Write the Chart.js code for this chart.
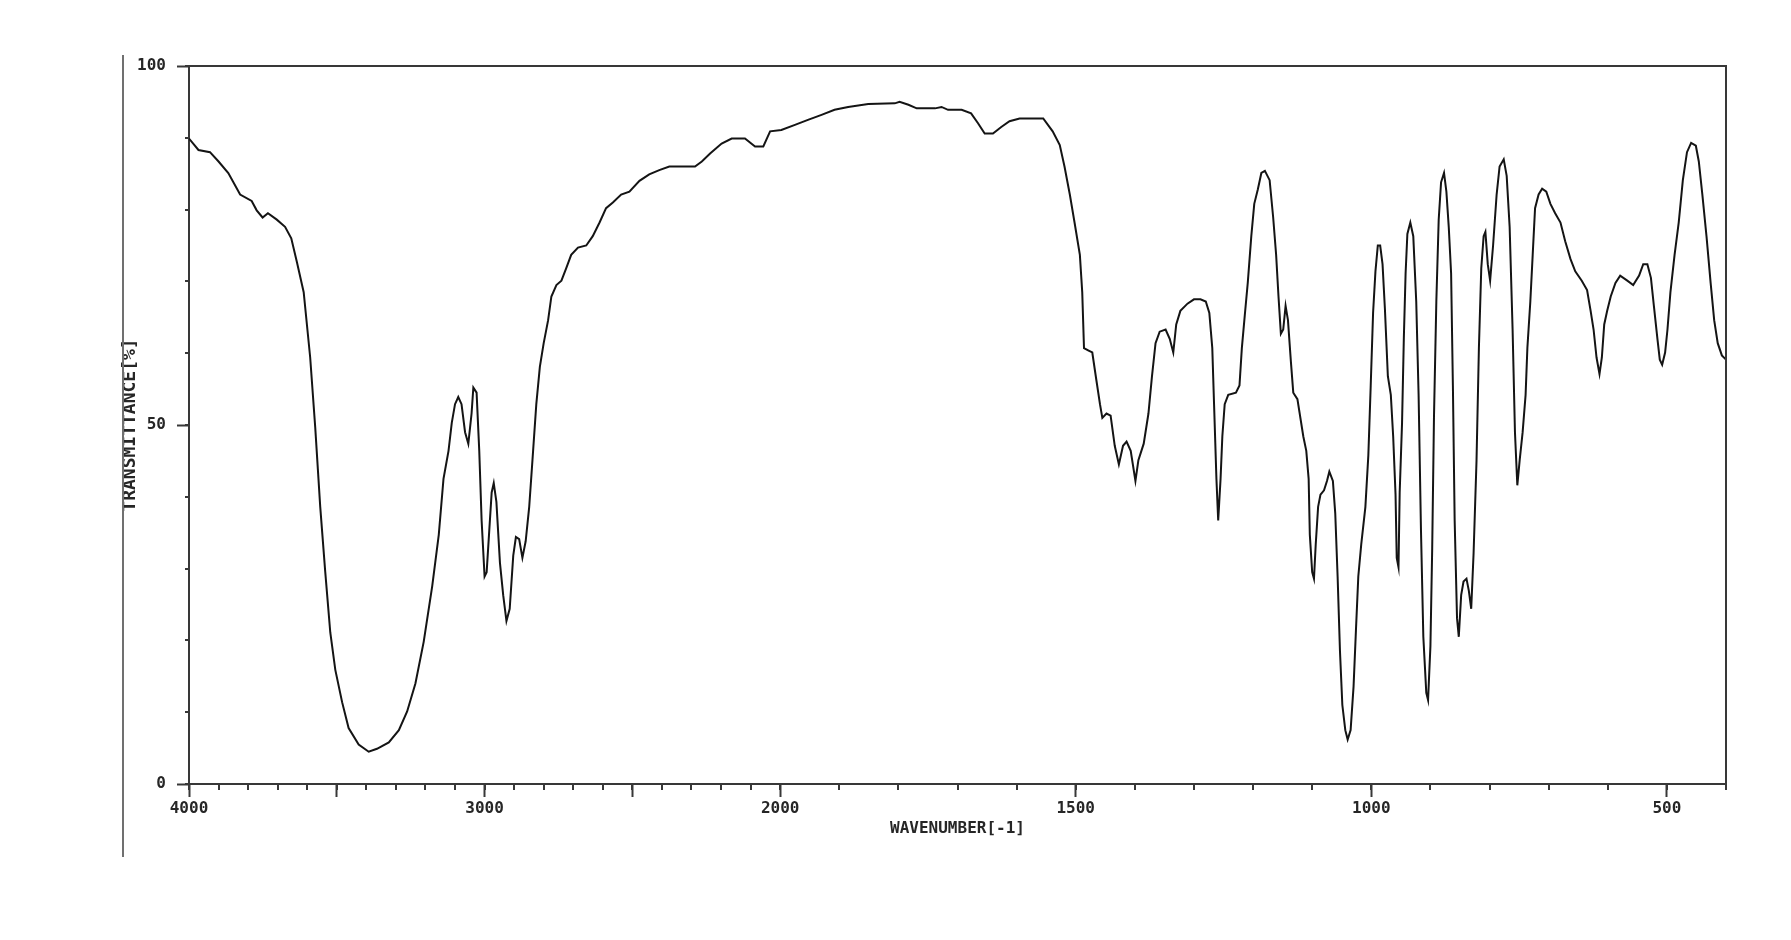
<!DOCTYPE html>
<html>
<head>
<meta charset="utf-8">
<script src="https://cdn.jsdelivr.net/npm/chart.js@4.4.1/dist/chart.umd.min.js"></script>
<style>
html, body { margin: 0; padding: 0; background: #ffffff; }
#wrap { position: relative; width: 1791px; height: 940px; }
#c { position: absolute; left: 0; top: 0; }
#edge { position: absolute; left: 122px; top: 55px; width: 2px; height: 802px; background: #707070; }
</style>
</head>
<body>
<div id="wrap">
  <canvas id="c" width="1791" height="940"></canvas>
  <div id="edge"></div>
</div>
<script>
// ---- data (wavenumber in cm-1, transmittance in %) ----
const wavenumbers = [
  4000, 3968, 3929, 3900, 3867, 3827, 3788, 3771, 3751, 3733, 3703, 3675, 3654, 3635, 3612, 3590,
  3573, 3556, 3539, 3522, 3505, 3482, 3460, 3426, 3392, 3364, 3324, 3290, 3262, 3234, 3206, 3177,
  3155, 3139, 3122, 3111, 3100, 3089, 3078, 3066, 3055, 3044, 3038, 3027, 3018, 3010, 3000, 2993,
  2984, 2976, 2969, 2960, 2948, 2937, 2926, 2915, 2903, 2894, 2883, 2872, 2861, 2849, 2838, 2825,
  2813, 2800, 2785, 2774, 2757, 2740, 2724, 2707, 2684, 2656, 2634, 2611, 2589, 2566, 2538, 2510,
  2476, 2443, 2409, 2375, 2342, 2288, 2265, 2237, 2198, 2164, 2119, 2085, 2057, 2034, 1998, 1975,
  1953, 1930, 1908, 1885, 1851, 1806, 1798, 1783, 1769, 1738, 1727, 1716, 1693, 1677, 1665, 1654,
  1640, 1626, 1612, 1595, 1555, 1539, 1527, 1519, 1510, 1502, 1493, 1489, 1486, 1479, 1472, 1465,
  1459, 1455, 1448, 1441, 1434, 1427, 1420, 1414, 1407, 1399, 1394, 1385, 1377, 1371, 1365, 1358,
  1348, 1341, 1335, 1330, 1323, 1311, 1300, 1289, 1280, 1274, 1269, 1266, 1262, 1259, 1255, 1252,
  1248, 1242, 1229, 1223, 1219, 1214, 1209, 1203, 1198, 1192, 1186, 1180, 1172, 1166, 1161, 1157,
  1153, 1149, 1145, 1141, 1136, 1132, 1125, 1115, 1110, 1106, 1104, 1100, 1097, 1094, 1090, 1086,
  1080, 1075, 1071, 1065, 1061, 1057, 1053, 1049, 1044, 1040, 1035, 1030, 1026, 1022, 1017, 1010,
  1005, 1001, 997, 993, 989, 985, 981, 977, 972, 967, 963, 959, 957, 954, 952, 948,
  945, 942, 939, 934, 929, 924, 920, 916, 912, 907, 904, 900, 897, 894, 890, 886,
  882, 877, 873, 869, 865, 862, 859, 855, 852, 848, 844, 839, 835, 831, 827, 822,
  818, 814, 810, 807, 803, 799, 794, 788, 783, 776, 771, 766, 761, 757, 753, 749,
  744, 739, 736, 731, 727, 723, 717, 711, 704, 697, 689, 680, 672, 663, 655, 644,
  635, 629, 624, 619, 614, 610, 606, 601, 595, 587, 579, 567, 557, 547, 540, 533,
  527, 522, 516, 512, 508, 503, 499, 494, 487, 480, 473, 466, 459, 451, 446, 440,
  433, 426, 420, 414, 407, 400
];
const transmittance = [
  89.9, 88.3, 88.0, 86.7, 85.1, 82.1, 81.2, 79.9, 78.9, 79.5, 78.6, 77.6, 76.0, 72.7, 68.5, 59.4,
  49.7, 38.6, 29.5, 21.1, 15.9, 11.4, 7.8, 5.5, 4.5, 4.9, 5.8, 7.5, 10.1, 14.0, 19.8, 27.6,
  34.7, 42.5, 46.4, 50.3, 52.9, 53.9, 52.9, 49.0, 47.4, 51.6, 55.2, 54.5, 46.4, 36.7, 28.9, 29.5,
  35.4, 40.6, 41.9, 39.3, 30.8, 26.3, 22.7, 24.4, 31.8, 34.4, 34.1, 31.5, 33.8, 38.6, 45.1, 52.9,
  58.1, 61.4, 64.6, 67.9, 69.5, 70.1, 71.8, 73.7, 74.7, 75.0, 76.3, 78.2, 80.2, 81.0, 82.1, 82.5,
  84.0, 84.9, 85.5, 86.0, 86.0, 86.0, 86.7, 87.8, 89.2, 89.9, 89.9, 88.8, 88.8, 90.9, 91.1, 91.8,
  92.5, 93.2, 93.9, 94.3, 94.7, 94.8, 95.0, 94.6, 94.1, 94.1, 94.3, 93.9, 93.9, 93.4, 92.0, 90.6,
  90.6, 91.5, 92.3, 92.7, 92.7, 90.9, 89.0, 86.0, 82.1, 78.2, 73.7, 68.5, 60.7, 60.4, 60.1, 56.2,
  52.9, 51.0, 51.6, 51.3, 47.1, 44.5, 47.1, 47.7, 46.4, 42.2, 45.1, 47.4, 51.6, 56.8, 61.4, 63.0,
  63.3, 62.0, 60.1, 64.0, 65.9, 66.9, 67.5, 67.5, 67.2, 65.6, 60.7, 52.9, 42.5, 36.7, 42.5, 48.4,
  52.9, 54.2, 54.5, 55.5, 60.7, 65.3, 69.8, 76.3, 80.8, 82.8, 85.1, 85.4, 84.1, 78.9, 73.7, 67.9,
  62.7, 63.3, 66.6, 64.6, 58.8, 54.5, 53.6, 48.4, 46.4, 42.5, 34.7, 29.5, 28.6, 33.4, 38.6, 40.3,
  40.9, 42.2, 43.5, 42.2, 37.7, 28.9, 18.5, 11.0, 7.5, 6.2, 7.5, 13.6, 21.4, 28.9, 33.4, 38.6,
  45.8, 55.5, 65.6, 71.4, 75.0, 75.0, 72.4, 66.2, 56.8, 54.2, 48.4, 40.3, 31.5, 30.2, 40.6, 50.3,
  62.0, 71.1, 76.6, 78.2, 76.3, 67.2, 54.2, 35.4, 20.5, 12.7, 11.7, 19.2, 32.8, 51.0, 67.2, 78.6,
  83.8, 85.1, 82.5, 77.6, 71.1, 55.5, 36.7, 23.1, 20.5, 26.3, 28.2, 28.6, 26.9, 24.4, 32.1, 45.1,
  60.7, 71.8, 76.3, 76.9, 72.4, 70.1, 75.0, 82.1, 86.0, 87.0, 84.7, 77.6, 63.3, 49.0, 41.6, 45.1,
  49.0, 54.2, 60.7, 67.2, 73.7, 80.2, 82.1, 82.9, 82.5, 80.8, 79.5, 78.2, 75.6, 73.1, 71.4, 70.1,
  68.8, 65.9, 63.3, 59.4, 57.1, 59.4, 64.0, 65.9, 67.9, 69.8, 70.8, 70.1, 69.5, 70.8, 72.4, 72.4,
  70.5, 66.6, 62.0, 59.1, 58.4, 60.1, 63.3, 68.5, 73.7, 78.2, 84.1, 88.0, 89.3, 88.9, 86.7, 82.1,
  76.3, 69.8, 64.6, 61.4, 59.7, 59.1
];
const xTickValues = [4000, 3500, 3000, 2500, 2000, 1500, 1000, 500];
const xTickLabels = ['4000', '', '3000', '', '2000', '1500', '1000', '500'];
const yTickValues = [0, 50, 100];
const yTickLabels = ['0', '50', '100'];
const xMinorStep = 100;   // minor tick spacing on x (cm-1)
const yMinorStep = 10;    // minor tick spacing on y (%)
const xTitle = 'WAVENUMBER[-1]';
const yTitle = 'TRANSMITTANCE[%]';

// ---- split wavenumber axis: 4000-2000 at half scale, 2000-400 at full scale ----
function toPos(w) { return w >= 2000 ? (4000 - w) / 2 : 1000 + (2000 - w); }

const AX = '#383838';
const TXT = '#262626';
const FONT = '"DejaVu Sans Mono", "Liberation Mono", monospace';

const framePlugin = {
  id: 'frame',
  afterDraw(chart) {
    const ctx = chart.ctx;
    const a = chart.chartArea;
    const xs = chart.scales.x, ys = chart.scales.y;
    ctx.save();
    ctx.strokeStyle = AX;
    ctx.lineWidth = 2;
    ctx.beginPath();
    ctx.moveTo(a.left, a.top);
    ctx.lineTo(a.right, a.top);
    ctx.lineTo(a.right, a.bottom);
    ctx.stroke();
    ctx.beginPath();
    for (let w = 4000; w >= 400; w -= xMinorStep) {
      const px = Math.round(xs.getPixelForValue(toPos(w)));
      ctx.moveTo(px, a.bottom);
      ctx.lineTo(px, a.bottom + 6);
    }
    for (let v = 0; v <= 100; v += yMinorStep) {
      const py = Math.round(ys.getPixelForValue(v));
      ctx.moveTo(a.left, py);
      ctx.lineTo(a.left - 4, py);
    }
    ctx.stroke();
    ctx.restore();
  }
};

const points = wavenumbers.map((w, i) => ({ x: toPos(w), y: transmittance[i] }));

new Chart(document.getElementById('c'), {
  type: 'line',
  data: {
    datasets: [{
      data: points,
      borderColor: '#141414',
      borderWidth: 2,
      pointRadius: 0,
      tension: 0,
      fill: false
    }]
  },
  options: {
    responsive: false,
    animation: false,
    devicePixelRatio: 1,
    events: [],
    layout: { padding: { left: 0, top: 66, right: 65, bottom: 0 } },
    plugins: { legend: { display: false }, tooltip: { enabled: false } },
    scales: {
      x: {
        type: 'linear',
        min: 0,
        max: 2600,
        position: 'bottom',
        afterFit(s) { s.height = 156; },
        afterBuildTicks(s) { s.ticks = xTickValues.map(w => ({ value: toPos(w) })); },
        ticks: {
          autoSkip: false,
          maxRotation: 0,
          padding: 2,
          color: TXT,
          font: { family: FONT, size: 16, weight: 'bold' },
          callback: (v, i) => xTickLabels[i]
        },
        grid: { drawOnChartArea: false, drawTicks: true, tickLength: 13, tickColor: AX, tickWidth: 2 },
        border: { display: true, color: AX, width: 2 },
        title: {
          display: true,
          text: xTitle,
          color: TXT,
          font: { family: FONT, size: 16, weight: 'bold' },
          padding: { top: 0, bottom: 102 }
        }
      },
      y: {
        type: 'linear',
        min: 0,
        max: 100,
        position: 'left',
        afterFit(s) { s.width = 189; },
        afterBuildTicks(s) { s.ticks = yTickValues.map(v => ({ value: v })); },
        ticks: {
          padding: 11,
          color: TXT,
          font: { family: FONT, size: 16, weight: 'bold' },
          callback: (v, i) => yTickLabels[i]
        },
        grid: { drawOnChartArea: false, drawTicks: true, tickLength: 12, tickColor: AX, tickWidth: 2 },
        border: { display: true, color: AX, width: 2 },
        title: {
          display: true,
          text: yTitle,
          color: TXT,
          font: { family: FONT, size: 18, weight: 'bold' },
          padding: { top: 120, bottom: 0 }
        }
      }
    }
  },
  plugins: [framePlugin]
});
</script>
</body>
</html>
